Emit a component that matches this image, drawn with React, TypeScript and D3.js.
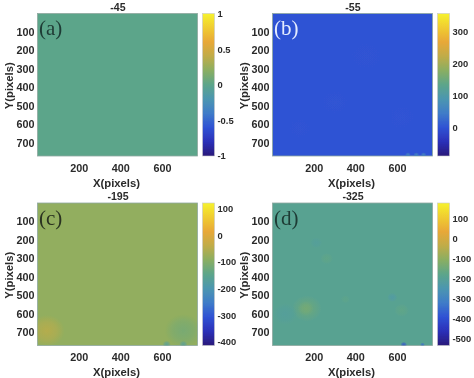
import React from "react";
import * as d3 from "d3";

const colorStops = ["#2a1a7a", "#2c30b8", "#2f52d4", "#3f7cc8", "#4c96b0", "#5ca58a", "#8aae62", "#c0ac48", "#e8a838", "#f0cc30", "#f6f22e"];

const xTicks = [200, 400, 600];
const yTicks = [100, 200, 300, 400, 500, 600, 700];

const titles = ["-45", "-55", "-195", "-325"];
const letters = ["(a)", "(b)", "(c)", "(d)"];
const letterColors = ["#1e3a34", "#e4ecff", "#2a3320", "#1e3a34"];
const baseValues = [0, 1, -85, -190];
const colorDomains: [number, number][] = [[-1, 1], [-87, 355], [-413, 121], [-533, 180]];
const barTicksA = [1, 0.5, 0, -0.5, -1];
const barTicksB = [300, 200, 100, 0];
const barTicksC = [100, 0, -100, -200, -300, -400];
const barTicksD = [100, 0, -100, -200, -300, -400, -500];
const barTicks = [barTicksA, barTicksB, barTicksC, barTicksD];

// x, y, radius, value (pixels of the image axis, panel's colour units)
const blobsA: number[][] = [];
const blobsB: number[][] = [
  [300, 480, 60, 5], [450, 230, 70, 4], [130, 620, 50, 4], [620, 560, 60, 3],
  [650, 764, 14, 70], [690, 764, 14, 70], [725, 764, 14, 70],
];
const blobsC: number[][] = [
  [45, 690, 85, -42], [700, 690, 90, -120], [620, 764, 20, -170], [700, 764, 20, -170],
];
const blobsD: number[][] = [
  [165, 570, 70, -150], [160, 570, 38, -135], [60, 600, 60, -210], [260, 300, 30, -170], [210, 215, 30, -210],
  [575, 510, 25, -230], [620, 580, 35, -170], [350, 520, 22, -175], [630, 766, 16, -400], [720, 766, 12, -350],
];
const blobs = [blobsA, blobsB, blobsC, blobsD];

const plotW = 160;
const plotH = 142.5;
const panelX = [37.5, 272.5, 37.5, 272.5];
const panelY = [13.5, 13.5, 203, 203];
const barGap = 5;
const barW = 12;

const tScale = d3.scaleLinear().domain(colorStops.map((_, i) => i / (colorStops.length - 1))).range(colorStops as any).interpolate(d3.interpolateRgb as any) as any;

const boldFont = "'Liberation Sans', Arial, sans-serif";

function Panel({ i }: { i: number }) {
  const x0 = panelX[i];
  const y0 = panelY[i];
  const xs = d3.scaleLinear().domain([0, 768]).range([x0, x0 + plotW]);
  const ys = d3.scaleLinear().domain([0, 770]).range([y0, y0 + plotH]);
  const [lo, hi] = colorDomains[i];
  const tOf = d3.scaleLinear().domain([lo, hi]).range([0, 1]);
  const color = (v: number) => tScale(tOf(v));
  const barX = x0 + plotW + barGap;
  const barY = d3.scaleLinear().domain([lo, hi]).range([y0 + plotH, y0]);
  const rx = (r: number) => xs(r) - xs(0);
  const ry = (r: number) => ys(r) - ys(0);
  return (
    <g>
      <defs>
        <clipPath id={`clip${i}`}>
          <rect x={x0} y={y0} width={plotW} height={plotH} />
        </clipPath>
        {blobs[i].map((b, j) => (
          <radialGradient key={j} id={`blob${i}-${j}`}>
            <stop offset="0%" stopColor={color(b[3])} stopOpacity={0.8} />
            <stop offset="55%" stopColor={color(b[3])} stopOpacity={0.5} />
            <stop offset="100%" stopColor={color(b[3])} stopOpacity={0} />
          </radialGradient>
        ))}
      </defs>
      <g filter="url(#soft)">
        <rect x={x0} y={y0} width={plotW} height={plotH} fill={color(baseValues[i])} stroke="#8fa8a0" strokeWidth={0.8} />
        <g clipPath={`url(#clip${i})`}>
          {blobs[i].map((b, j) => (
            <ellipse key={j} cx={xs(b[0])} cy={ys(b[1])} rx={rx(b[2])} ry={ry(b[2])} fill={`url(#blob${i}-${j})`} />
          ))}
        </g>
        <rect x={barX} y={y0} width={barW} height={plotH} fill="url(#parula)" stroke="#c8c8c8" strokeWidth={0.6} />
      </g>
      <g filter="url(#softText)" fontFamily={boldFont} fontWeight="bold" fill="#2b2b2b">
        <text x={x0 + plotW / 2 + 0.5} y={y0 - 3} fontSize={10.6} textAnchor="middle">{titles[i]}</text>
        {xTicks.map((t) => (
          <text key={t} x={xs(t)} y={y0 + plotH + 15.5} fontSize={10.8} textAnchor="middle">{t}</text>
        ))}
        {yTicks.map((t) => (
          <text key={t} x={x0 - 3} y={ys(t) + 3.8} fontSize={10.8} textAnchor="end">{t}</text>
        ))}
        <text x={x0 + plotW / 2 - 1} y={y0 + plotH + 30.5} fontSize={11.3} textAnchor="middle">X(pixels)</text>
        <text transform={`translate(${x0 - 24.5},${y0 + plotH / 2 + 1}) rotate(-90)`} fontSize={11.3} textAnchor="middle">Y(pixels)</text>
        {barTicks[i].map((t) => (
          <text key={t} x={barX + barW + 3} y={barY(t) + 3.4} fontSize={9.4}>{t}</text>
        ))}
      </g>
      <text x={x0 + 1.5} y={y0 + 21.5} fontFamily="'Liberation Serif', serif" fontSize={21} fill={letterColors[i]} filter="url(#softText)">{letters[i]}</text>
    </g>
  );
}

export default function App() {
  return (
    <svg width={474} height={378} viewBox="0 0 474 378" style={{ position: "absolute", left: 0, top: 0, background: "#fff" }}>
      <defs>
        <linearGradient id="parula" x1="0" y1="1" x2="0" y2="0">
          {colorStops.map((c, i) => (
            <stop key={i} offset={`${(i / (colorStops.length - 1)) * 100}%`} stopColor={c} />
          ))}
        </linearGradient>
        <filter id="soft" x="-5%" y="-5%" width="110%" height="110%">
          <feGaussianBlur stdDeviation="0.5" />
        </filter>
        <filter id="softText" x="-20%" y="-20%" width="140%" height="140%">
          <feGaussianBlur stdDeviation="0.3" />
        </filter>
      </defs>
      {titles.map((_, i) => (
        <Panel key={i} i={i} />
      ))}
    </svg>
  );
}
